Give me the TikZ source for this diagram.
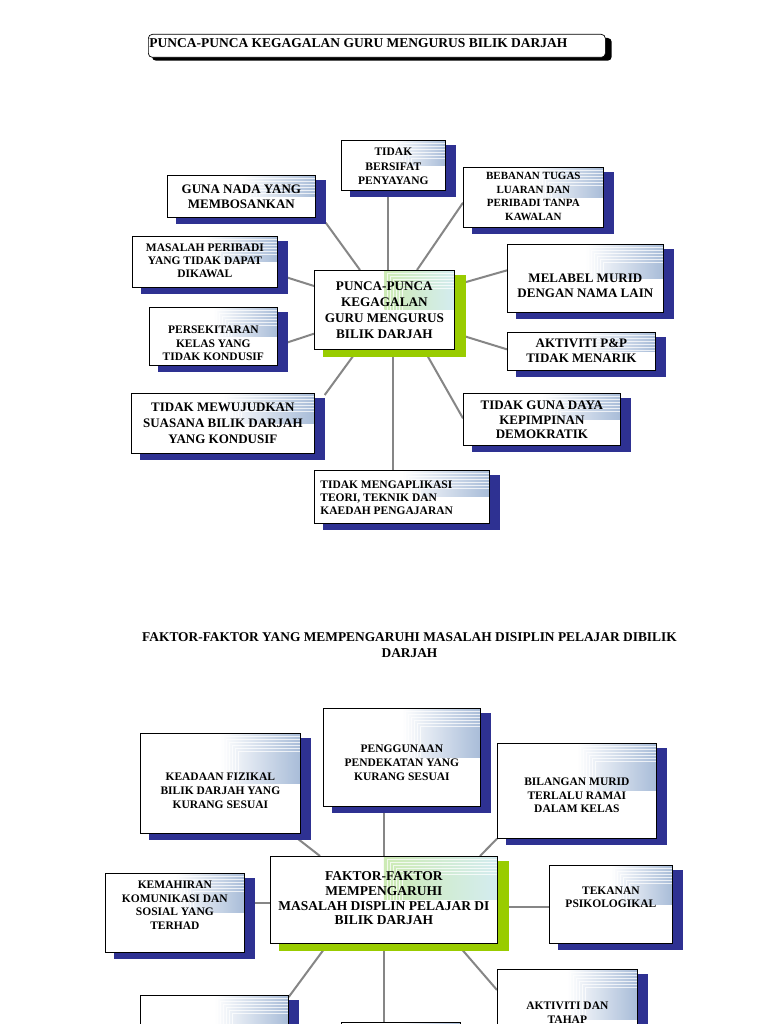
\documentclass[tikz,border=0pt]{standalone}
\usepackage{fontspec}
\setmainfont{Liberation Serif}
\usetikzlibrary{calc,backgrounds}
\definecolor{navy}{RGB}{46,49,146}
\definecolor{lime}{RGB}{153,204,0}
\definecolor{linkgray}{RGB}{134,134,134}
\definecolor{decoblue}{RGB}{168,188,216}
\definecolor{decogreenA}{RGB}{205,235,180}
\definecolor{decogreenB}{RGB}{212,236,240}
\newcommand\fsz[2]{\fontsize{#1}{#2}\selectfont\bfseries}
\newcommand\boxtxt[2]{\makebox[0pt]{\raisebox{\dimexpr #1pt-0.581em+0.2\baselineskip\relax}[0pt][0pt]{\begin{tabular}{@{}c@{}}#2\end{tabular}}}}
\newcommand\boxtxtl[3]{\makebox[0pt][l]{\hspace*{#1pt}\raisebox{\dimexpr #2pt-0.581em+0.2\baselineskip\relax}[0pt][0pt]{\begin{tabular}{@{}l@{}}#3\end{tabular}}}}
\tikzset{
  deco/.style 2 args={path picture={
    \coordinate (dA) at ($(path picture bounding box.north west)!0.5!(path picture bounding box.north east)$);
    \coordinate (dB) at ($(path picture bounding box.north east)!0.5!(path picture bounding box.south east)$);
    \shade[left color=#1, right color=#2] (dA) rectangle (dB);
    \foreach \k in {1,...,6}{\draw[white, line width=0.5pt, opacity=0.75] ($(dA |- dB)+(3*\k,0)$) -- ($(dA)+(3*\k,3*\k)$) -- ($(dA -| dB)+(0,3*\k)$);}
  }},
  bx/.style={draw=black, line width=0.7pt, fill=white, inner sep=0pt, anchor=north west, deco={white}{decoblue}},
  ctr/.style={draw=black, line width=0.7pt, fill=white, inner sep=0pt, anchor=north west, deco={decogreenA}{decogreenB}},
  link/.style={draw=linkgray, line width=2pt},
  navyshadow/.style={fill=navy},
  limeshadow/.style={fill=lime}
}
\begin{document}
\begin{tikzpicture}[x=1pt,y=-1pt]
\useasboundingbox (0,0) rectangle (768,1024);
\begin{scope}
\clip (0,0) rectangle (768,1024);
% title 1
\node[draw=black, line width=0.7pt, fill=white, rounded corners=4pt, inner sep=0pt, anchor=north west, minimum width=457, minimum height=23, font=\fsz{13.5}{16}] (title) at (148,34) {\boxtxtl{-227.5}{2.5}{PUNCA-PUNCA KEGAGALAN GURU MENGURUS BILIK DARJAH}};
% diagram 1
\node[bx, minimum width=104, minimum height=50, font=\fsz{11.5}{14.5}] (tb) at (341,140) {\boxtxt{-1}{TIDAK\\BERSIFAT\\PENYAYANG}};
\node[bx, minimum width=148, minimum height=42, font=\fsz{13}{15}] (gn) at (167,175) {\boxtxt{-0.5}{GUNA NADA YANG\\MEMBOSANKAN}};
\node[bx, minimum width=145, minimum height=51, font=\fsz{11.5}{13}] (ms) at (132,236) {\boxtxt{1.5}{MASALAH PERIBADI\\YANG TIDAK DAPAT\\DIKAWAL}};
\node[bx, minimum width=128, minimum height=58, font=\fsz{11.5}{13.5}] (ps) at (149,307) {\boxtxt{-7}{PERSEKITARAN\\KELAS YANG\\TIDAK KONDUSIF}};
\node[ctr, minimum width=140, minimum height=79, font=\fsz{13.2}{16}] (c1) at (314,270) {\boxtxt{0.5}{PUNCA-PUNCA\\KEGAGALAN\\GURU MENGURUS\\BILIK DARJAH}};
\node[bx, minimum width=140, minimum height=60, font=\fsz{11}{13.5}] (bb) at (463,167) {\boxtxt{1}{BEBANAN TUGAS\\LUARAN DAN\\PERIBADI TANPA\\KAWALAN}};
\node[bx, minimum width=156, minimum height=68, font=\fsz{13}{15}] (ml) at (507,244) {\boxtxt{-7.5}{MELABEL MURID\\DENGAN NAMA LAIN}};
\node[bx, minimum width=148, minimum height=38, font=\fsz{13}{15}] (ak) at (507,332) {\boxtxt{0.5}{AKTIVITI P\&P\\TIDAK MENARIK}};
\node[bx, minimum width=183, minimum height=60, font=\fsz{13}{16}] (mw) at (131,393) {\boxtxt{0}{TIDAK MEWUJUDKAN\\SUASANA BILIK DARJAH\\YANG KONDUSIF}};
\node[bx, minimum width=157, minimum height=52, font=\fsz{13}{14.5}] (gd) at (463,393) {\boxtxt{-0.3}{TIDAK GUNA DAYA\\KEPIMPINAN\\DEMOKRATIK}};
\node[bx, minimum width=175, minimum height=53, font=\fsz{11.5}{13}] (mg) at (314,470) {\boxtxtl{-81.5}{-0.5}{TIDAK MENGAPLIKASI\\TEORI, TEKNIK DAN\\KAEDAH PENGAJARAN}};
% title 2
\node[inner sep=0pt, font=\fsz{13.4}{16}] (t2) at (409.5,645) {\boxtxt{0}{FAKTOR-FAKTOR YANG MEMPENGARUHI MASALAH DISIPLIN PELAJAR DIBILIK\\DARJAH}};
% diagram 2
\node[bx, minimum width=160, minimum height=100, font=\fsz{11.5}{14}] (kd) at (140,733) {\boxtxt{-7}{KEADAAN FIZIKAL\\BILIK DARJAH YANG\\KURANG SESUAI}};
\node[bx, minimum width=157, minimum height=98, font=\fsz{11.5}{14}] (pg) at (323,708) {\boxtxt{-5}{PENGGUNAAN\\PENDEKATAN YANG\\KURANG SESUAI}};
\node[bx, minimum width=159, minimum height=95, font=\fsz{11.5}{13.5}] (bl) at (497,743) {\boxtxt{-4.5}{BILANGAN MURID\\TERLALU RAMAI\\DALAM KELAS}};
\node[bx, minimum width=139, minimum height=79, font=\fsz{11.5}{13.5}] (km) at (105,873) {\boxtxt{7.5}{KEMAHIRAN\\KOMUNIKASI DAN\\SOSIAL YANG\\TERHAD}};
\node[ctr, minimum width=227, minimum height=87, font=\fsz{13.5}{14.8}] (c2) at (270,856) {\boxtxt{1.5}{FAKTOR-FAKTOR\\MEMPENGARUHI\\MASALAH DISPLIN PELAJAR DI\\BILIK DARJAH}};
\node[bx, minimum width=123, minimum height=78, font=\fsz{11.5}{13}] (tk) at (549,865) {\boxtxt{7.5}{TEKANAN\\PSIKOLOGIKAL}};
\node[bx, minimum width=140, minimum height=100, font=\fsz{11.5}{14}] (ad) at (497,969) {\boxtxt{7}{AKTIVITI DAN\\TAHAP}};
\node[bx, minimum width=148, minimum height=80] (blb) at (140,995) {};
\node[bx, minimum width=119, minimum height=60] (bm) at (341,1022) {};
\end{scope}
\begin{pgfonlayer}{background}
\clip (0,0) rectangle (768,1024);
\fill[white] (0,0) rectangle (768,1024);
% connectors diagram 1
\draw[link] ($(c1.north west)+(74,0)$) -- ($(tb.south west)+(47,0)$);
\draw[link] ($(c1.north west)+(46,0)$) -- ($(gn.south east)+(10,5)$);
\draw[link] ($(c1.north west)+(0,16)$) -- ($(ms.south east)+(10,-10)$);
\draw[link] ($(c1.south west)+(0,-16)$) -- ($(ps.east)+(10,6)$);
\draw[link] ($(c1.north west)+(103,0)$) -- ($(bb.south west)+(0,-25)$);
\draw[link] ($(c1.north east)+(8,13)$) -- ($(ml.west)+(0,-8)$);
\draw[link] ($(c1.south east)+(8,-14)$) -- ($(ak.west)+(0,-2)$);
\draw[link] ($(c1.south west)+(43,1)$) -- ($(mw.north east)+(10,2)$);
\draw[link] ($(c1.south west)+(79,0)$) -- ($(mg.north west)+(79,0)$);
\draw[link] ($(c1.south west)+(110,0)$) -- ($(gd.west)+(0,-1)$);
% connectors diagram 2
\draw[link] ($(c2.north west)+(50,0)$) -- ($(kd.south east)+(-3,5)$);
\draw[link] ($(c2.north west)+(114,0)$) -- ($(pg.south west)+(61,0)$);
\draw[link] ($(c2.north west)+(210,0)$) -- (bl.south west);
\draw[link] ($(c2.west)+(0,3.5)$) -- ($(km.east)+(0,-9.5)$);
\draw[link] ($(c2.east)+(0,7.5)$) -- ($(tk.west)+(0,3)$);
\draw[link] ($(c2.south west)+(58,0)$) -- ($(blb.north east)+(0,2)$);
\draw[link] ($(c2.south west)+(114,0)$) -- ($(bm.north west)+(43,0)$);
\draw[link] ($(c2.south west)+(187,0)$) -- ($(ad.north west)+(0,21)$);
% shadows
\fill[black, rounded corners=4pt] ($(title.north west)+(4,4)$) rectangle ($(title.south east)+(6,3)$);
\foreach \nm in {tb,gn,ms,ps,bb,ml,ak,mw,gd,mg,kd,pg,bl,km,tk,ad,blb,bm}{
  \fill[navyshadow] ($(\nm.north west)+(9,5)$) rectangle ($(\nm.south east)+(10,6)$);
}
\foreach \nm in {c1,c2}{
  \fill[limeshadow] ($(\nm.north west)+(9,5)$) rectangle ($(\nm.south east)+(11,7)$);
}
\end{pgfonlayer}
\end{tikzpicture}
\end{document}
